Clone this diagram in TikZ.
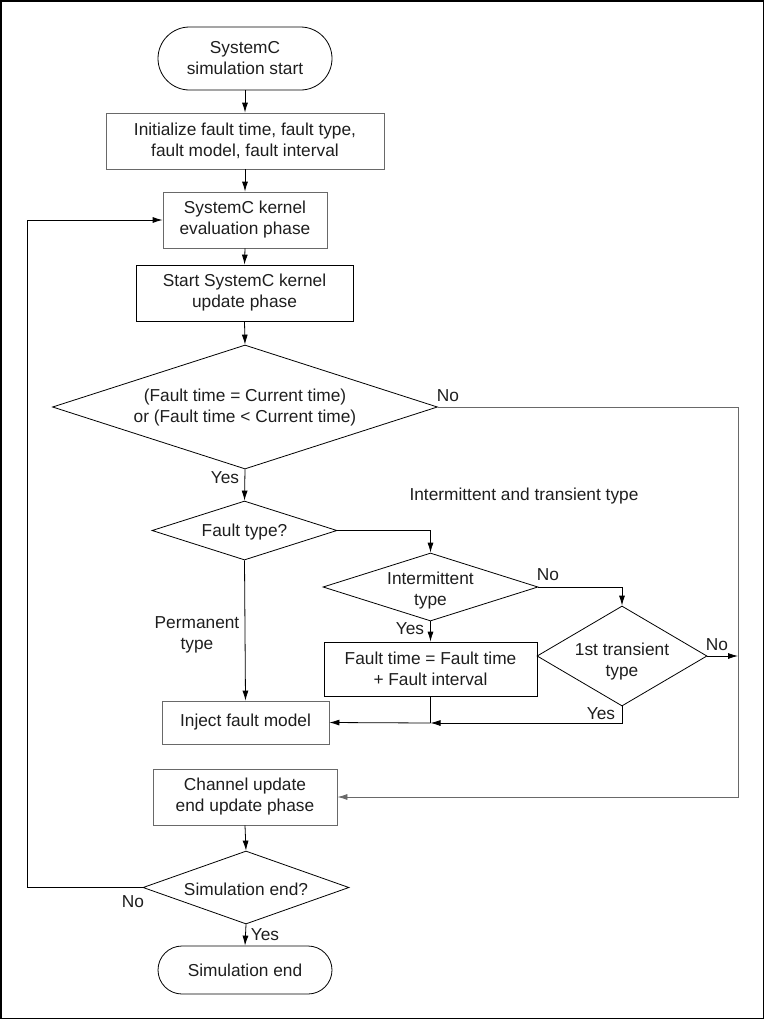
\documentclass[tikz,border=0pt]{standalone}
\usepackage{fontspec}
\setmainfont{Liberation Sans}
\usetikzlibrary{shapes.geometric,shapes.misc,arrows.meta}
\definecolor{edgegray}{RGB}{105,105,105}
\definecolor{txtc}{RGB}{30,30,30}
\begin{document}
\begin{tikzpicture}[x=1pt,y=-1pt,
  every node/.style={font=\fontsize{17.3}{21}\selectfont, text=txtc, align=center, inner sep=0pt},
  term/.style={rounded rectangle, draw, line width=0.8pt, minimum width=174pt},
  procbox/.style={rectangle, draw, line width=0.8pt},
  graybox/.style={procbox, draw=edgegray},
  dia/.style={diamond, draw, line width=0.8pt},
  conn/.style={line width=0.8pt},
  arr/.style={conn, -{Latex[length=10pt,width=6pt]}},
  lbl/.style={}
]
\useasboundingbox (0,0) rectangle (765,1020);
\draw[line width=1.6pt] (1,1) rectangle (763.5,1018.5);

% nodes
\node[term, minimum height=63pt] (start) at (245,58.5) {SystemC\\simulation start};
\node[graybox, minimum width=278pt, minimum height=56pt] (init) at (245,141) {Initialize fault time, fault type,\\fault model, fault interval};
\node[graybox, minimum width=164pt, minimum height=56pt] (eval) at (245,220) {SystemC kernel\\evaluation phase};
\node[procbox, minimum width=217pt, minimum height=56pt] (upd) at (244.5,293) {Start SystemC kernel\\update phase};
\node[dia, minimum width=385pt, minimum height=124pt] (d1) at (245,407) {};
\node at (245,408) {(Fault time = Current time)\\or (Fault time {<} Current time)};
\node[dia, minimum width=185pt, minimum height=59pt] (d2) at (244.5,530.5) {};
\node at (244.5,532) {Fault type?};
\node[dia, minimum width=215pt, minimum height=68pt] (d3) at (430.5,587) {};
\node at (430.5,591) {Intermittent\\type};
\node[dia, minimum width=170pt, minimum height=100pt] (d4) at (622,656) {};
\node at (622,662) {1st transient\\type};
\node[procbox, minimum width=213pt, minimum height=54pt] (ft) at (430.5,669) {Fault time = Fault time\\+ Fault interval};
\node[graybox, minimum width=167pt, minimum height=43pt] (inj) at (245.5,722.5) {Inject fault model};
\node[graybox, minimum width=184pt, minimum height=56pt] (chan) at (245,797) {Channel update\\end update phase};
\node[dia, minimum width=206pt, minimum height=73pt] (d5) at (246,887.5) {};
\node at (246,889.5) {Simulation end?};
\node[term, minimum height=48pt] (end) at (245,970) {Simulation end};

% coordinates
\coordinate (rc) at (738,407);
\coordinate (rj) at (738,656);
\coordinate (mj) at (430.5,723);
\coordinate (lc) at (27,887.5);

% connectors
\draw[arr] (start.south) -- (init.north);
\draw[arr] (init.south) -- (eval.north);
\draw[arr] (eval.south) -- (upd.north);
\draw[arr] (upd.south) -- (d1.north);
\draw[arr, draw=edgegray] (d1.east) -- (rc) |- (chan.east);
\draw[arr] (d1.south) -- (d2.north);
\draw[arr] (d2.east) -| (d3.north);
\draw[arr] (d2.south) -- (inj.north);
\draw[arr] (d3.east) -| (d4.north);
\draw[arr] (d3.south) -- (ft.north);
\draw[arr] (d4.east) -- (rj);
\draw[arr] (d4.south) |- (mj);
\draw[conn] (ft.south) -- (mj);
\draw[arr] (mj) -- (inj.east);
\draw[arr] (chan.south) -- (d5.north);
\draw[arr] (d5.west) -- (lc) |- (eval.west);
\draw[arr] (d5.south) -- (end.north);

% labels
\node[lbl] at (448,396) {No};
\node[lbl] at (225,478) {Yes};
\node[lbl] at (524,496) {Intermittent and transient type};
\node[lbl] at (197,635) {Permanent\\type};
\node[lbl] at (548,575) {No};
\node[lbl] at (410,629) {Yes};
\node[lbl] at (717,645) {No};
\node[lbl] at (601,714) {Yes};
\node[lbl] at (133,902) {No};
\node[lbl] at (265,935) {Yes};
\end{tikzpicture}
\end{document}
